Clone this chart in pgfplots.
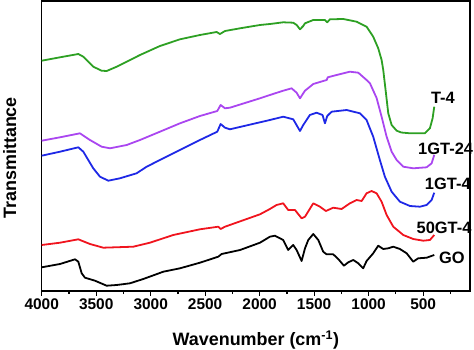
\documentclass[border=0pt]{standalone}
\usepackage{fontspec}
\setmainfont{Liberation Sans}
\usepackage{pgfplots}
\pgfplotsset{compat=1.18}
\definecolor{cgreen}{RGB}{45,160,35}
\definecolor{cpurple}{RGB}{170,70,240}
\definecolor{cblue}{RGB}{30,40,230}
\definecolor{cred}{RGB}{240,20,30}
\begin{document}
\begin{tikzpicture}
\begin{axis}[
  scale only axis, width=428.3bp, height=290bp,
  x dir=reverse, xmin=70, xmax=4000, ymin=-1, ymax=289,
  xtick={500,1000,...,4000}, minor xtick={250,750,...,3750},
  ytick=\empty, xtick pos=bottom, tick align=outside,
  major tick length=4.5bp, minor tick length=3bp,
  every tick/.style={black, line width=1.2pt},
  axis line style={line width=1.6pt},
  /pgf/number format/assume math mode=true,
  /pgf/number format/1000 sep={},
  xticklabel style={font=\fontsize{15.5}{18}\selectfont\bfseries},
  xlabel={Wavenumber (cm\textsuperscript{-1})},
  ylabel={Transmittance},
  label style={font=\fontsize{18}{21}\selectfont\bfseries},
  xlabel style={at={(axis description cs:0.5,-0.1886)}, anchor=base},
  ylabel style={at={(axis description cs:-0.0595,0.459)}, anchor=base},
  clip=false,
  every axis plot/.append style={line width=1.8pt, line join=round},
]
\addplot[cgreen] coordinates {
(4000,229.3)(3832,232.7)(3664,236)(3618,233.3)(3527,223.3)(3450,219.3)(3404,219)(3312,223.3)(3098,235)(2915,244)(2731,250.7)(2548,255)(2395,258)(2364,256)(2318,259)(2180,261.7)(1997,265)(1906,266)(1784,267.7)(1692,267.3)(1660,265)(1630,260.7)(1600,264)(1584,266.7)(1508,270)(1401,270)(1380,267.7)(1355,270.7)(1233,271)(1110,268.3)(1019,263.3)(958,253.3)(912,241.7)(881,230)(866,220)(841,196.7)(820,176.7)(789,165)(743,159.3)(700,157.5)(621,156.7)(484,156.7)(438,161.7)(413,171.7)(398,183.3)};
\addplot[cpurple] coordinates {
(4000,149.3)(3832,152.7)(3649,156.7)(3557,150)(3450,143.3)(3373,141.7)(3220,145)(3098,150)(2915,158.3)(2731,166.7)(2548,174)(2389,179)(2358,185)(2318,181.7)(2273,182.3)(1997,191.7)(1906,195)(1784,199.3)(1707,201.7)(1661,197.3)(1630,191.7)(1584,199.3)(1508,206)(1417,209)(1385,210)(1375,212.7)(1294,215)(1172,218.3)(1095,217.3)(1019,210)(988,206.7)(927,192)(881,173.3)(835,153.3)(789,138.3)(743,130)(682,123.3)(591,121.7)(468,122.7)(422,126.7)(398,135)};
\addplot[cblue] coordinates {
(4000,134.3)(3832,138.3)(3664,142.7)(3618,138.3)(3527,121.7)(3465,113.3)(3389,109.3)(3282,111.7)(3129,116.7)(3037,123.3)(2915,130)(2731,140)(2548,150)(2389,158.3)(2358,166)(2318,162.3)(2273,160.7)(1997,167.7)(1906,170)(1784,173.3)(1692,170.7)(1630,159)(1600,165)(1539,175)(1478,177.3)(1423,175)(1401,166.7)(1380,174)(1340,178.3)(1202,180)(1080,176.7)(1019,170)(958,153.3)(897,130)(851,113.3)(789,98.3)(713,88.3)(621,84)(529,83.3)(468,85)(422,90)(398,97.3)};
\addplot[cred] coordinates {
(4000,45)(3832,47.3)(3664,50.7)(3557,46)(3435,42.3)(3160,43.3)(3007,47.3)(2793,55)(2548,60.7)(2380,63.3)(2358,61)(2318,63.3)(1997,75.7)(1906,81)(1845,85)(1784,86.7)(1738,80)(1676,80)(1615,71.7)(1584,73.3)(1508,86.7)(1447,83.3)(1392,79)(1325,82.3)(1248,81)(1172,86.7)(1110,90)(1064,89)(1019,96.7)(973,99)(927,96.7)(881,88.3)(835,75)(774,63.3)(682,55)(591,51)(499,49.3)(438,50)(398,55)};
\addplot[black] coordinates {
(4000,22.7)(3832,26)(3694,30.7)(3664,28.3)(3633,16.7)(3603,12.3)(3511,9.3)(3404,4.3)(3312,5)(3190,6.7)(3068,11)(2884,18.3)(2731,21.7)(2548,27.3)(2380,33.3)(2349,36)(2180,40)(1997,47.3)(1906,53.3)(1860,54.3)(1784,50)(1738,40)(1692,45)(1661,40)(1615,29)(1584,41.7)(1554,50)(1508,56)(1462,50)(1417,38.3)(1386,35.7)(1325,35.7)(1279,31)(1227,24.3)(1187,27.7)(1141,30)(1095,26.7)(1050,21.7)(1019,29)(958,36.7)(912,44.3)(866,41)(820,41.7)(774,43.3)(713,41)(651,36.7)(591,28.3)(545,31.7)(468,32.3)(398,35)};
\begin{scope}[every node/.style={anchor=east, inner sep=0pt, font=\fontsize{16.5}{19}\selectfont\bfseries}]
\node at (axis cs:208,192.5) {T-4};
\node at (axis cs:40,141.2) {1GT-24};
\node at (axis cs:62,106) {1GT-4};
\node at (axis cs:55,62.5) {50GT-4};
\node at (axis cs:117,32.2) {GO};
\end{scope}
\end{axis}
\pgfresetboundingbox
\path[use as bounding box] ([shift={(-41.7bp,-59bp)}]current axis.south west) rectangle ([shift={(4bp,1bp)}]current axis.north east);
\end{tikzpicture}
\end{document}
